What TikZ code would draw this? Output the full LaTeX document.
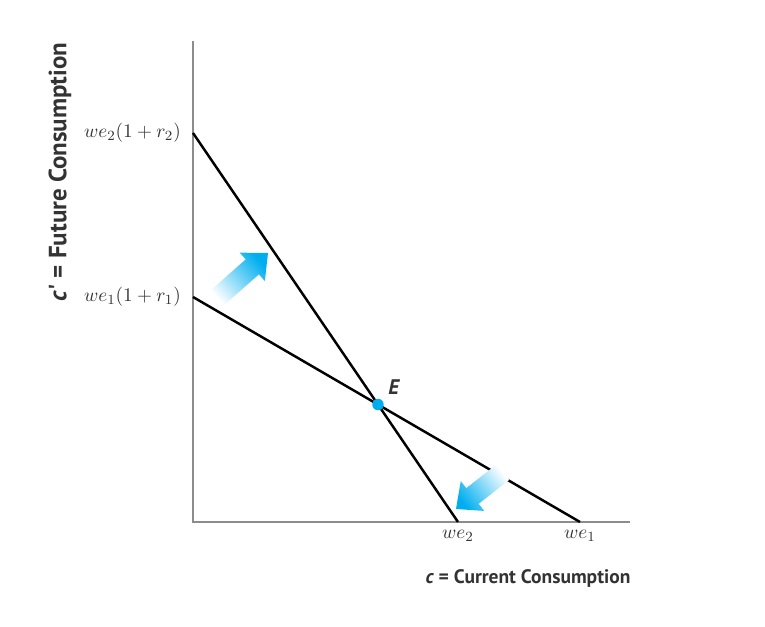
\documentclass[tikz,border=0pt]{standalone}
\usepackage{fontspec}
\newfontfamily\labelfont{PT Sans}
\usetikzlibrary{calc,positioning,intersections}
\definecolor{budgetcyan}{HTML}{00AEEF}
\definecolor{axisgray}{HTML}{8C8C8C}
\definecolor{labelgray}{HTML}{333333}
\tikzset{
  axisline/.style={axisgray, line width=1.1pt},
  budget/.style={black, line width=1.4pt},
  eqpoint/.style={circle, fill=budgetcyan, inner sep=0pt, minimum size=6.5pt},
  ticklabel/.style={labelgray, font=\fontsize{11.4}{13}\selectfont},
  axislabel/.style={labelgray, font=\labelfont\bfseries\fontsize{11.1}{13}\selectfont},
  shiftarrow/.style={left color=white, right color=budgetcyan}
}
% block arrow: tail, tip, shading angle
\newcommand{\blockarrow}[3]{%
  \coordinate (neck) at ($(#2)!0.42cm!(#1)$);
  \shade[shiftarrow, shading angle=#3]
    ($(#1)!0.2cm!90:(#2)$) -- ($(neck)!0.2cm!90:(#2)$) -- ($(neck)!0.38cm!90:(#2)$)
    -- (#2) -- ($(neck)!0.38cm!-90:(#2)$) -- ($(neck)!0.2cm!-90:(#2)$)
    -- ($(#1)!0.2cm!-90:(#2)$) -- cycle;
}

\begin{document}
\begin{tikzpicture}
  \useasboundingbox (-3.86,-2.1) rectangle (11.44,10.44);
  % axes
  \coordinate (O) at (0,0);
  \coordinate (ytop) at (0,9.62);
  \coordinate (xend) at (8.74,0);
  \draw[axisline] (ytop) -- (O) -- (xend);
  % budget lines
  \coordinate (A2) at (0,7.78);
  \coordinate (A1) at (0,4.5);
  \coordinate (B2) at (5.3,0);
  \coordinate (B1) at (7.74,0);
  \draw[budget, name path=line1] (A1) -- (B1);
  \draw[budget, name path=line2] (A2) -- (B2);
  \path[name intersections={of=line1 and line2, by=E}];
  % shift arrows
  \coordinate (up tail) at (0.46,4.46);
  \coordinate (up tip) at (1.5,5.38);
  \coordinate (down tail) at (6.2,1.0);
  \coordinate (down tip) at (5.26,0.26);
  \blockarrow{up tail}{up tip}{131.6}
  \blockarrow{down tail}{down tip}{307.7}
  % equilibrium
  \node[eqpoint] (Edot) at (E) {};
  \node[axislabel, font=\labelfont\bfseries\itshape\fontsize{12}{14}\selectfont, above right=0pt and 0pt of Edot] (Elabel) {E};
  % labels
  \node[ticklabel, left=0.12cm of A2] (a2label) {$we_2(1+r_2)$};
  \node[ticklabel, left=0.12cm of A1] (a1label) {$we_1(1+r_1)$};
  \node[ticklabel, below=1pt of B2] (b2label) {$we_2$};
  \node[ticklabel, below=1pt of B1] (b1label) {$we_1$};
  \node[axislabel] (xlabel) at (6.7,-1.12) {{\itshape c} = Current Consumption};
  \node[axislabel, font=\labelfont\bfseries\fontsize{14.2}{16}\selectfont, rotate=90] (ylabel) at (-2.66,7.0) {{\itshape c}' = Future Consumption};
\end{tikzpicture}
\end{document}
